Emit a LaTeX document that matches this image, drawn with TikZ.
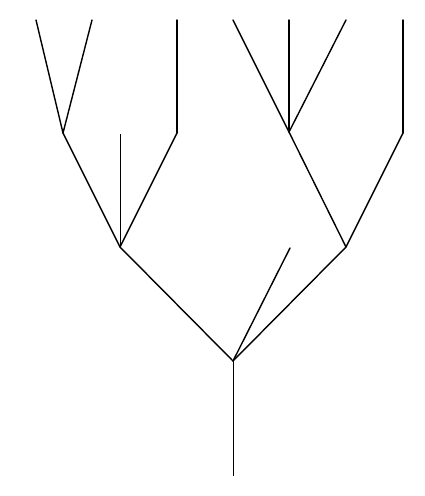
\documentclass[tikz,border=0pt]{standalone}
\begin{document}
\begin{tikzpicture}[x=1pt,y=-1pt,
  edge/.style={line width=1.4pt,line cap=round,line join=round},
  thinedge/.style={line width=0.9pt}]
\useasboundingbox (0,0) rectangle (424,496);
\coordinate (root) at (233,476);
\coordinate (A) at (233,361);
\coordinate (B) at (120,247);
\coordinate (C) at (346,247);
\coordinate (Ax) at (290,248);
\coordinate (B1) at (63,133);
\coordinate (B2) at (177,133);
\coordinate (Bx) at (120,134);
\coordinate (C1) at (289,132);
\coordinate (C2) at (403,133);
\coordinate (L1) at (36,20);
\coordinate (L2) at (92,20);
\coordinate (L3) at (177,20);
\coordinate (L4) at (233,20);
\coordinate (L5) at (289,20);
\coordinate (L6) at (346,20);
\coordinate (L7) at (403,20);
\draw[thinedge] (root) -- (A);
\draw[edge] (A) -- (B);
\draw[edge] (A) -- (C);
\draw[edge] (A) -- (Ax);
\draw[edge] (B) -- (B1);
\draw[edge] (B) -- (B2);
\draw[thinedge] (B) -- (Bx);
\draw[edge] (C) -- (C1);
\draw[edge] (C) -- (C2);
\draw[edge] (B1) -- (L1);
\draw[edge] (B1) -- (L2);
\draw[edge] (B2) -- (L3);
\draw[edge] (C1) -- (L4);
\draw[edge] (C1) -- (L5);
\draw[edge] (C1) -- (L6);
\draw[edge] (C2) -- (L7);
\end{tikzpicture}
\end{document}
